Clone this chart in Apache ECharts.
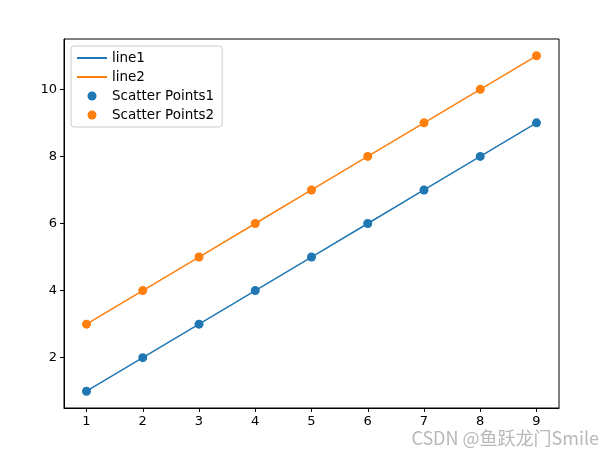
<!DOCTYPE html>
<html>
<head>
<meta charset="utf-8">
<script src="https://cdn.jsdelivr.net/npm/echarts@6/dist/echarts.min.js"></script>
</head>
<body style="margin:0;background:#fff">
<div id="main" style="width:613px;height:455px;"></div>
<script>
var xs = [1, 2, 3, 4, 5, 6, 7, 8, 9];
var line1 = [1, 2, 3, 4, 5, 6, 7, 8, 9];
var line2 = [3, 4, 5, 6, 7, 8, 9, 10, 11];
var xTicks = [1, 2, 3, 4, 5, 6, 7, 8, 9];
var yTicks = [2, 4, 6, 8, 10];

function pairs(ys) { return xs.map(function (x, i) { return [x, ys[i]]; }); }

var font = 'DejaVu Sans';
var myChart = echarts.init(document.getElementById('main'));
var axisCommon = {
    type: 'value',
    axisLine: { show: true, onZero: false, lineStyle: { color: '#000' } },
    axisTick: { show: true, inside: false, length: 4, lineStyle: { color: '#000' } },
    axisLabel: { color: '#000', fontFamily: font, fontSize: 13, margin: 7 },
    splitLine: { show: false }
};
var option = {
    animation: false,
    grid: { left: 64, right: 54, top: 39, bottom: 47, show: true, borderColor: '#000', borderWidth: 1 },
    xAxis: echarts.util.merge({
        min: 0.6, max: 9.4,
        axisTick: { customValues: xTicks },
        axisLabel: { customValues: xTicks }
    }, axisCommon),
    yAxis: echarts.util.merge({
        min: 0.5, max: 11.5,
        axisTick: { customValues: yTicks },
        axisLabel: { customValues: yTicks }
    }, axisCommon),
    legend: {
        orient: 'vertical', left: 71, top: 46,
        backgroundColor: '#fff', borderColor: '#ccc', borderWidth: 1, borderRadius: 3,
        padding: [5, 8, 5, 6], itemGap: 5, itemWidth: 30, itemHeight: 9,
        textStyle: { fontFamily: font, fontSize: 13.5, color: '#000' },
        data: [
            { name: 'line1', icon: 'path://M0,0h30v2h-30z' },
            { name: 'line2', icon: 'path://M0,0h30v2h-30z' },
            { name: 'Scatter Points1', icon: 'circle' },
            { name: 'Scatter Points2', icon: 'circle' }
        ]
    },
    series: [
        { name: 'line1', type: 'line', data: pairs(line1), showSymbol: false, color: '#1f77b4', lineStyle: { width: 1.5 } },
        { name: 'line2', type: 'line', data: pairs(line2), showSymbol: false, color: '#ff7f0e', lineStyle: { width: 1.5 } },
        { name: 'Scatter Points1', type: 'scatter', data: pairs(line1), symbolSize: 9, color: '#1f77b4', itemStyle: { opacity: 1 } },
        { name: 'Scatter Points2', type: 'scatter', data: pairs(line2), symbolSize: 9, color: '#ff7f0e', itemStyle: { opacity: 1 } }
    ],
    graphic: [{
        type: 'text', right: 14, bottom: 8,
        style: { text: 'CSDN @鱼跃龙门Smile', fill: '#b8b8b8', font: '18px "Noto Sans CJK SC"' }
    }]
};
myChart.setOption(option);
</script>
</body>
</html>
